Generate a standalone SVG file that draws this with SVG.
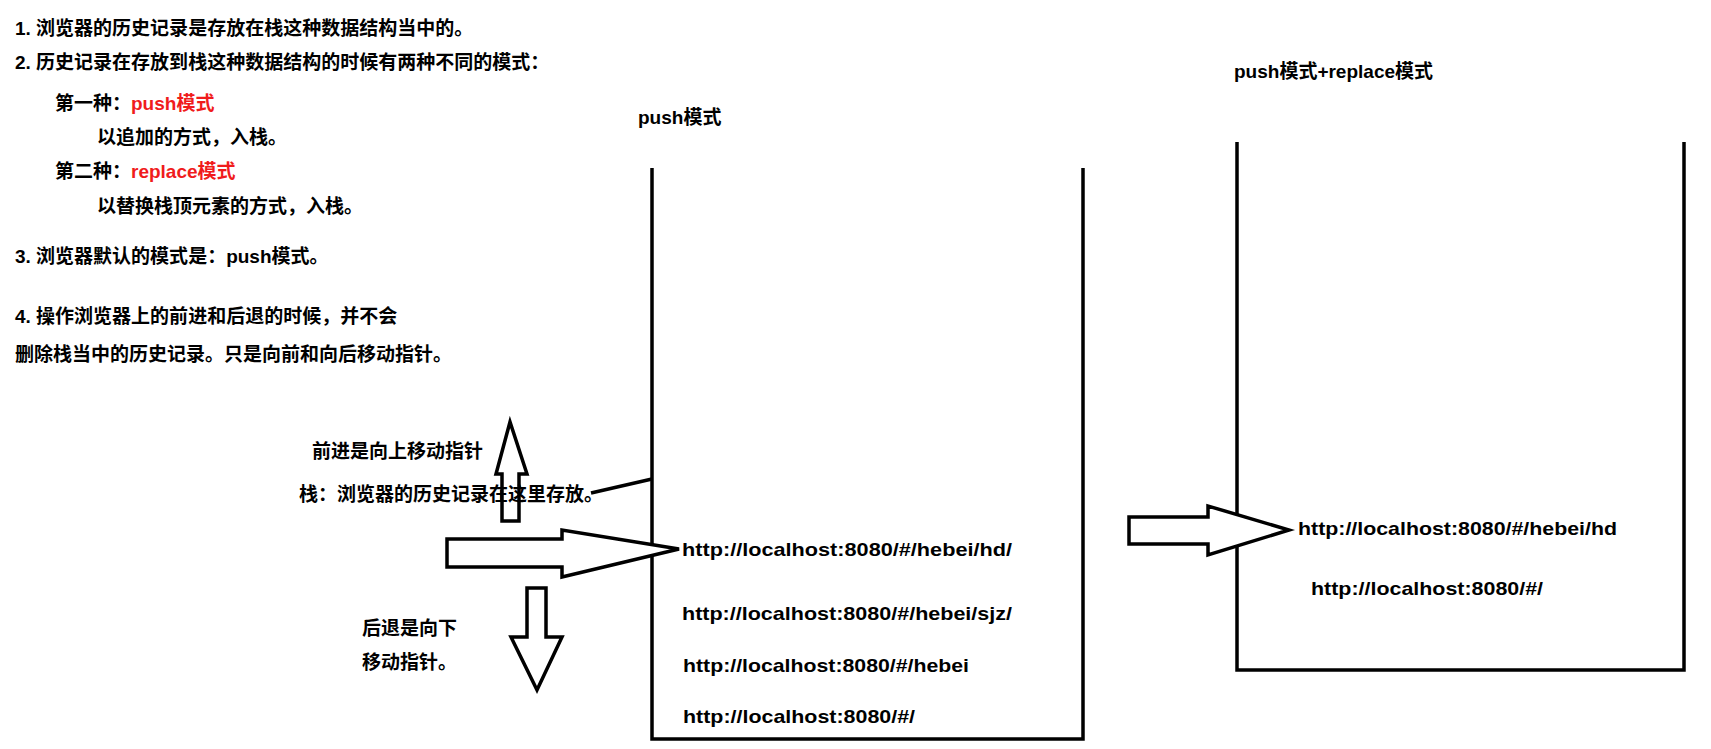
<svg xmlns="http://www.w3.org/2000/svg" width="1711" height="749" viewBox="0 0 1711 749">
<style>
text{font-family:"Liberation Sans","Noto Sans CJK SC",sans-serif;font-weight:bold;font-size:19px;fill:#000}
.r{fill:#f01c1c}
.s{fill:none;stroke:#000;stroke-width:3.5}
.a{fill:#fff;stroke:#000;stroke-width:3.5;stroke-linejoin:miter}
</style>
<rect width="1711" height="749" fill="#fff"/>
<g id="notes">
<text x="15" y="35">1. 浏览器的历史记录是存放在栈这种数据结构当中的。</text>
<text x="15" y="69">2. 历史记录在存放到栈这种数据结构的时候有两种不同的模式：</text>
<text x="55" y="110">第一种：<tspan class="r">push模式</tspan></text>
<text x="97" y="144">以追加的方式，入栈。</text>
<text x="55" y="178">第二种：<tspan class="r">replace模式</tspan></text>
<text x="97" y="213">以替换栈顶元素的方式，入栈。</text>
<text x="15" y="263">3. 浏览器默认的模式是：push模式。</text>
<text x="15" y="323">4. 操作浏览器上的前进和后退的时候，并不会</text>
<text x="15" y="361">删除栈当中的历史记录。只是向前和向后移动指针。</text>
</g>
<g id="push-stack">
<text x="638" y="124">push模式</text>
<path class="s" d="M652 168V739H1083V168"/>
<text x="682" y="556" textLength="330" lengthAdjust="spacingAndGlyphs">http://localhost:8080/#/hebei/hd/</text>
<text x="682" y="620" textLength="330" lengthAdjust="spacingAndGlyphs">http://localhost:8080/#/hebei/sjz/</text>
<text x="683" y="672" textLength="286" lengthAdjust="spacingAndGlyphs">http://localhost:8080/#/hebei</text>
<text x="683" y="723" textLength="232" lengthAdjust="spacingAndGlyphs">http://localhost:8080/#/</text>
</g>
<g id="replace-stack">
<text x="1234" y="78">push模式+replace模式</text>
<path class="s" d="M1237 142V670H1684V142"/>
<text x="1298" y="535" textLength="319" lengthAdjust="spacingAndGlyphs">http://localhost:8080/#/hebei/hd</text>
<text x="1311" y="595" textLength="232" lengthAdjust="spacingAndGlyphs">http://localhost:8080/#/</text>
</g>
<g id="labels">
<text x="312" y="458">前进是向上移动指针</text>
<text x="362" y="635">后退是向下</text>
<text x="362" y="669">移动指针。</text>
</g>
<g id="connectors">
<path class="a" d="M502 521V474H496L510 422L527 474H519V521Z"/>
<path class="a" d="M527 588H546V637H562L537 690L511 637H527Z"/>
<path class="a" d="M447 539H562V530L679 549L562 577V567H447Z"/>
<path class="a" d="M1129 517H1208V506L1289 530L1208 555V544H1129Z"/>
<path class="s" d="M591 493L652 479"/>
</g>
<g id="stack-label">
<text x="299" y="501">栈：浏览器的历史记录在这里存放。</text>
</g>
</svg>
